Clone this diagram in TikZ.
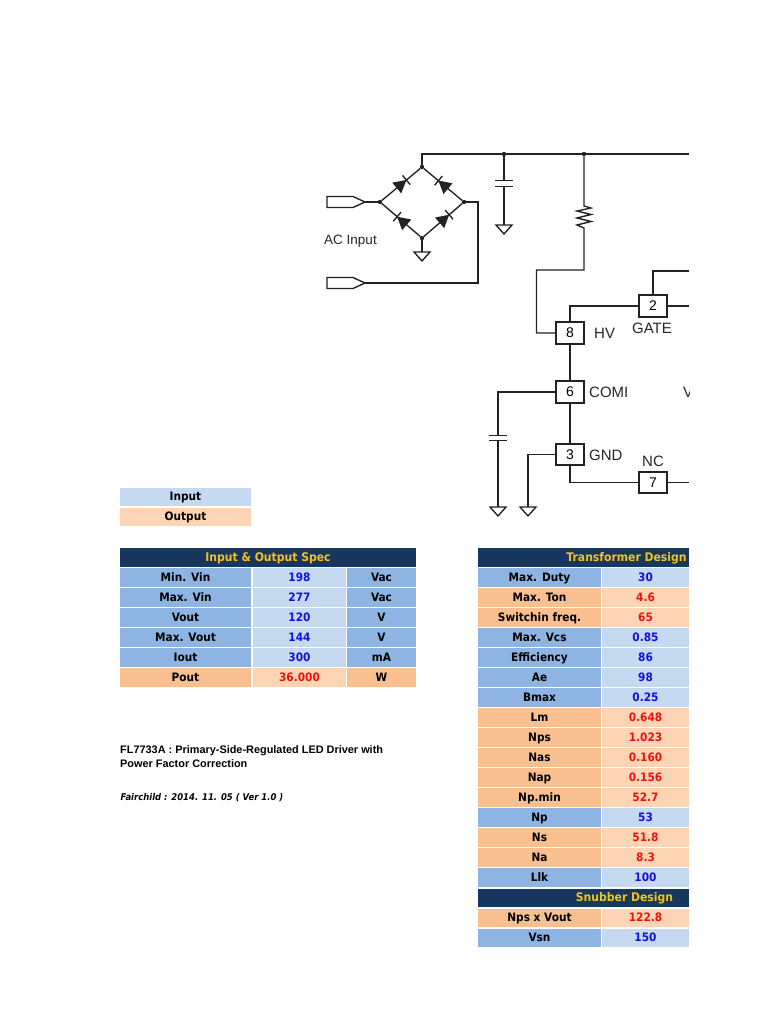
\documentclass[tikz,border=0pt]{standalone}
\usepackage{fontspec}
\setmainfont{Liberation Sans}
\newfontfamily\cellfont[FakeStretch=0.91]{DejaVu Sans}
\usetikzlibrary{positioning}

\definecolor{navy}{HTML}{17375E}
\definecolor{gold}{HTML}{F2C21E}
\definecolor{cellblue}{HTML}{8DB4E2}
\definecolor{paleblue}{HTML}{C5D9F1}
\definecolor{cellorange}{HTML}{FABF8F}
\definecolor{paleorange}{HTML}{FDD5B4}
\definecolor{inkblue}{HTML}{1010E0}
\definecolor{inkred}{HTML}{F01010}
\definecolor{wire}{HTML}{222222}

\tikzset{
  pin/.style={draw=wire, line width=1.8pt, minimum width=28.5pt, minimum height=21.5pt, inner sep=0pt, font=\fontsize{14}{14}\selectfont},
  tag/.style={inner sep=0pt, text=black!85, font=\fontsize{13.5}{14}\selectfont},
  pintag/.style={tag, font=\fontsize{15}{15}\selectfont},
  cell/.style={inner sep=0pt, minimum height=18.7pt, text height=8.5pt, text depth=1pt, font=\cellfont\bfseries\fontsize{11.6}{12}\selectfont, text=black},
  head/.style={cell, fill=navy, text=gold, font=\cellfont\bfseries\fontsize{11.9}{12}\selectfont},
  keyi/.style={cell, fill=cellblue},
  keyo/.style={cell, fill=cellorange},
  vali/.style={cell, fill=paleblue, text=inkblue},
  valo/.style={cell, fill=paleorange, text=inkred},
  wiring/.style={draw=wire, line width=1.35pt},
  dot/.style={circle, fill=wire, inner sep=0pt, minimum size=4.4pt},
  gnd/.pic={\draw[wiring, fill=white] (-8,0) -- (8,0) -- (0,9) -- cycle;},
  plug/.pic={\draw[wiring, fill=white] (0,0) -- (-12,-5.5) -- (-38,-5.5) -- (-38,5.5) -- (-12,5.5) -- cycle;},
  diode/.pic={
    \fill[wire] (-12.5,-7) -- (0,0) -- (-12.5,7) -- cycle;
    \draw[wiring] (0,-6) -- (0,6);
  },
  plate/.pic={\draw[wiring] (-9,-2.7) -- (9,-2.7) (-9,2.7) -- (9,2.7);}
}

\begin{document}
\begin{tikzpicture}[x=1pt, y=-1pt]
  \useasboundingbox (0,0) rectangle (768,1024);

  % bridge and input
  \node[dot] (top) at (422,167) {};
  \node[dot] (lft) at (380,202) {};
  \node[dot] (rgt) at (464,202) {};
  \node[dot] (bot) at (422,238) {};
  \node[dot] (bus1) at (504,154) {};
  \node[dot] (bus2) at (584,154) {};
  \coordinate (bus0) at (422,154);
  \coordinate (busend) at (689,154);
  \coordinate (plugA) at (365,202);
  \coordinate (plugB) at (365,283);
  \coordinate (gndB) at (422,252);
  \coordinate (gndC) at (504,225);
  \coordinate (capC) at (504,183.5);
  \coordinate (resT) at (584,206);
  \coordinate (resB) at (584,232);

  \draw[wiring] (lft) -- (top) -- (rgt) -- (bot) -- (lft);
  \draw[wiring] (top) -- (bus0) -- (busend);
  \draw[wiring] (plugA) -- (lft);
  \draw[wiring] (plugB) -- (478,283) -- (478,202) -- (rgt);
  \draw[wiring] (bot) -- (gndB);
  \draw[wiring] (bus1) -- (gndC);
  \path (bot) -- (lft) pic[pos=.6, sloped, allow upside down] {diode};
  \path (bot) -- (rgt) pic[pos=.66, sloped, allow upside down] {diode};
  \path (lft) -- (top) pic[pos=.64, sloped, allow upside down] {diode};
  \path (rgt) -- (top) pic[pos=.62, sloped, allow upside down] {diode};
  \pic at (plugA) {plug};
  \pic at (plugB) {plug};
  \pic at (gndB) {gnd};
  \pic at (gndC) {gnd};
  \fill[white] (490,181) rectangle (518,186);
  \pic at (capC) {plate};
  \node[tag] (acin) at (350.5,241) {AC Input};

  % pins
  \node[pin] (p8) at (570,333) {8};
  \node[pin] (p6) at (570,392) {6};
  \node[pin] (p3) at (570,454.5) {3};
  \node[pin] (p2) at (653,306) {2};
  \node[pin] (p7) at (653,482.5) {7};
  \node[pintag, anchor=west] (hv) at (594,333) {HV};
  \node[pintag, anchor=west] (comi) at (589,392) {COMI};
  \node[pintag, anchor=west] (gnd) at (589,455) {GND};
  \node[pintag] (gate) at (652,328) {GATE};
  \node[pintag] (nc) at (653,461) {NC};
  \begin{scope}
    \clip (670,380) rectangle (689.5,405);
    \node[pintag, anchor=west] (vpin) at (683,392) {V};
  \end{scope}

  \coordinate (gndD) at (498,507);
  \coordinate (gndE) at (528,507);
  \coordinate (capD) at (498,438);
  \draw[wiring] (bus2) -- (resT) -- ++(7,2) -- ++(-14,3) -- ++(14,3.5) -- ++(-14,3.5) -- ++(14,3.5) -- ++(-14,3.5) -- ++(7,3) -- (resB) -- (584,270) -- (536.5,270) -- (536.5,333) -- (p8);
  \draw[wiring] (p8) |- (p2);
  \draw[wiring] (p8) -- (p6) -- (p3);
  \draw[wiring] (p3) |- (p7);
  \draw[wiring] (p2) -- (689,306);
  \draw[wiring] (p7) -- (689,482.5);
  \draw[wiring] (p2) -- (653,271) -- (689,271);
  \draw[wiring] (p6) -| (gndD);
  \draw[wiring] (p3) -| (gndE);
  \fill[white] (486,435.3) rectangle (510,440.7);
  \pic at (capD) {plate};
  \pic at (gndD) {gnd};
  \pic at (gndE) {gnd};

  % legend
  \node[keyi, fill=paleblue, minimum width=131pt] (legin) at (185.5,497) {Input};
  \node[keyo, fill=paleorange, minimum width=131pt] (legout) at (185.5,517) {Output};

  % input and output spec
  \node[head, minimum width=296pt] (spechead) at (268,557.5) {Input \& Output Spec};
  \foreach \kind/\lab/\val/\unit [count=\i from 0] in {
      i/Min. Vin/198/Vac, i/Max. Vin/277/Vac, i/Vout/120/V,
      i/Max. Vout/144/V, i/Iout/300/mA, o/Pout/36.000/W}
  {
    \node[key\kind, minimum width=131pt] (speck\i) at (185.5,577.5+\i*20) {\lab};
    \node[val\kind, minimum width=93pt] (specv\i) at (299.5,577.5+\i*20) {\val};
    \node[key\kind, minimum width=69pt] (specu\i) at (381.5,577.5+\i*20) {\unit};
  }

  % transformer design
  \node[head, minimum width=211pt] (trhead) at (583.5,557.5) {};
  \node[head, fill=none] (trtext) at (626.5,557.5) {Transformer Design};
  \foreach \kind/\lab/\val [count=\i from 0] in {
      i/Max. Duty/30, o/Max. Ton/4.6, o/Switchin freq./65, i/Max. Vcs/0.85,
      i/Efficiency/86, i/Ae/98, i/Bmax/0.25, o/Lm/0.648, o/Nps/1.023,
      o/Nas/0.160, o/Nap/0.156, o/Np.min/52.7, i/Np/53, o/Ns/51.8,
      o/Na/8.3, i/Llk/100}
  {
    \node[key\kind, minimum width=123pt] (trk\i) at (539.5,577.5+\i*20) {\lab};
    \node[val\kind, minimum width=87pt] (trv\i) at (645.5,577.5+\i*20) {\val};
  }

  % snubber design
  \node[head, minimum width=211pt] (snhead) at (583.5,898) {};
  \node[head, fill=none] (sntext) at (624.5,898) {Snubber Design};
  \foreach \kind/\lab/\val [count=\i from 0] in {o/Nps x Vout/122.8, i/Vsn/150}
  {
    \node[key\kind, minimum width=123pt] (snk\i) at (539.5,918+\i*20) {\lab};
    \node[val\kind, minimum width=87pt] (snv\i) at (645.5,918+\i*20) {\val};
  }

  % notes
  \node[anchor=west, inner sep=0pt, font=\bfseries\fontsize{10.9}{12}\selectfont] (noteA) at (120,751) {FL7733A : Primary-Side-Regulated LED Driver with};
  \node[anchor=west, inner sep=0pt, font=\bfseries\fontsize{10.9}{12}\selectfont] (noteB) at (120,764) {Power Factor Correction};
  \node[anchor=west, inner sep=0pt, font=\cellfont\bfseries\itshape\fontsize{9.3}{12}\selectfont] (noteC) at (120.5,798) {Fairchild : 2014. 11. 05 ( Ver 1.0 )};
\end{tikzpicture}
\end{document}
